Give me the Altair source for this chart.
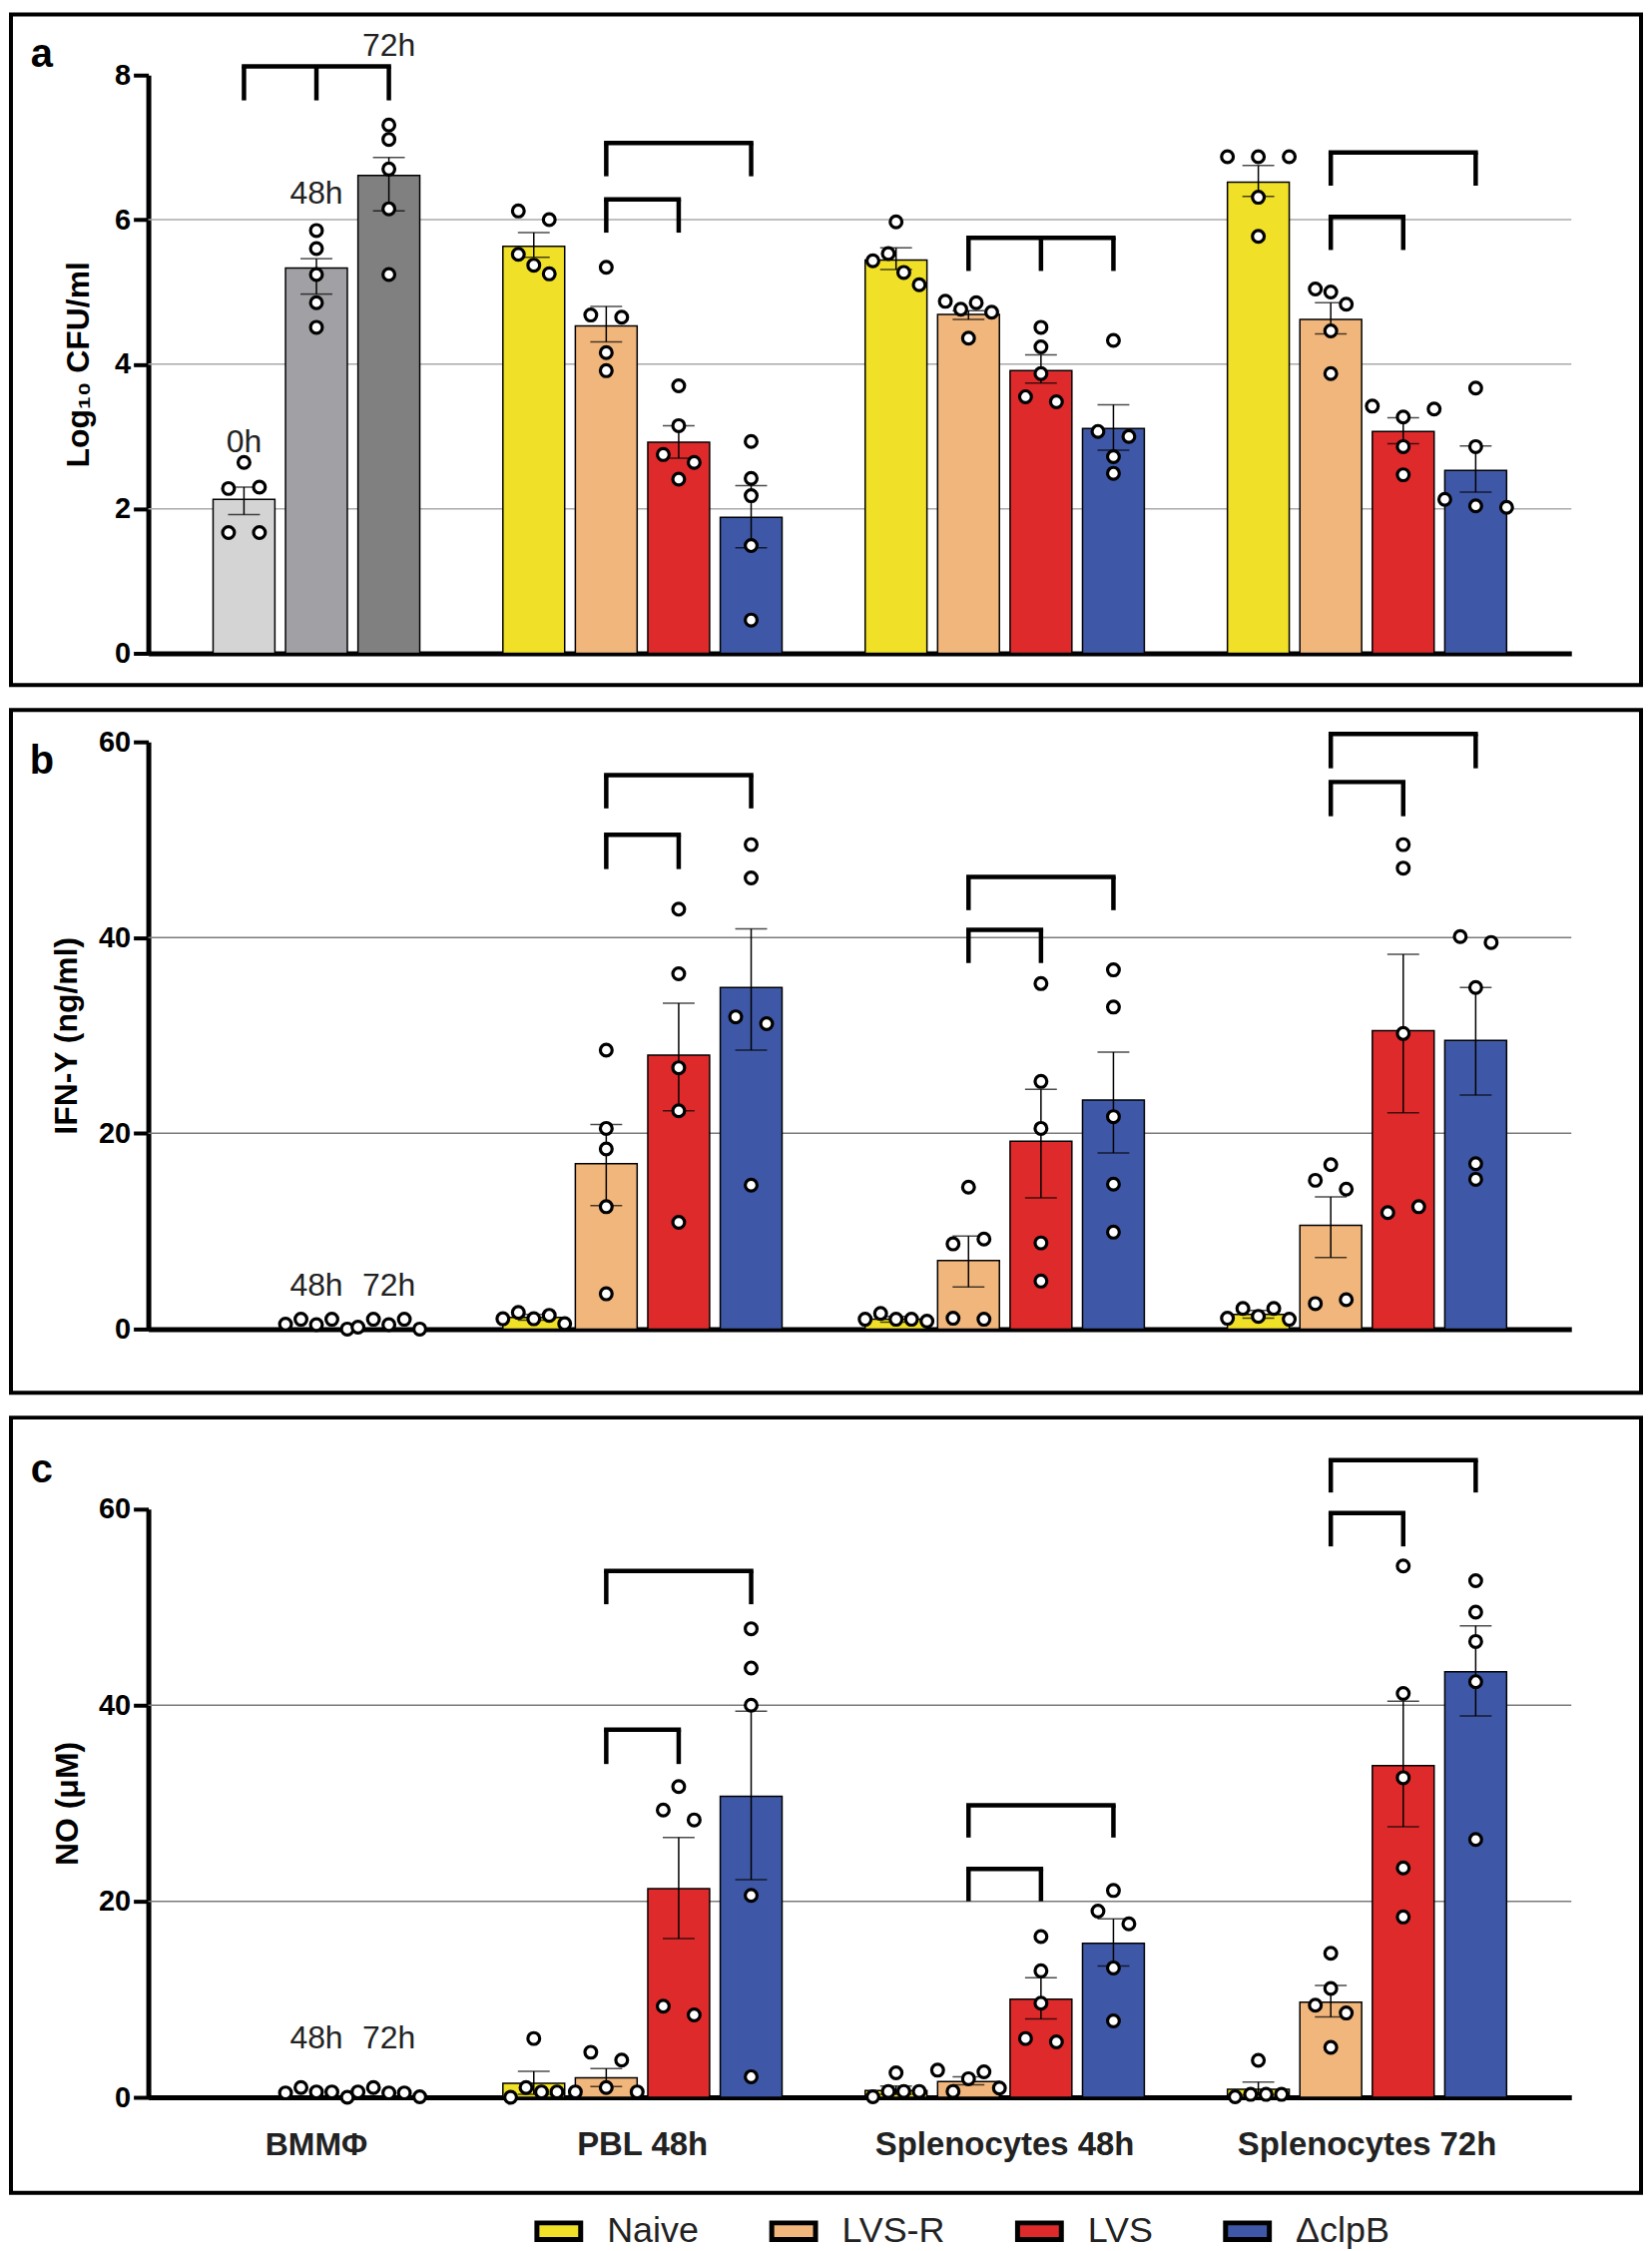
import altair as alt
import pandas as pd

# ---------------- categories ----------------
groups = ["BMMΦ", "PBL 48h", "Splenocytes 48h", "Splenocytes 72h"]
conditions = ["Naive", "LVS-R", "LVS", "ΔclpB"]
bmm_times = ["0h", "48h", "72h"]
cond_colors = ["#F0E028", "#F1B67C", "#DE2A2B", "#3E58A7"]
bmm_colors = ["#D4D4D4", "#A1A1A5", "#808080"]

# ---------------- panel a : Log10 CFU/ml ----------------
a_bmm_mean = [2.13, 5.33, 6.61]
a_bmm_lo = [1.92, 4.97, 6.12]
a_bmm_hi = [2.30, 5.46, 6.86]
a_bmm_pts = [[2.28, 2.64, 2.30, 1.67, 1.67],
             [5.85, 5.60, 5.24, 4.85, 4.51],
             [7.31, 7.11, 6.70, 6.15, 5.24]]
a_mean = {"PBL 48h": [5.63, 4.53, 2.92, 1.88],
          "Splenocytes 48h": [5.44, 4.69, 3.91, 3.11],
          "Splenocytes 72h": [6.52, 4.62, 3.07, 2.53]}
a_lo = {"PBL 48h": [5.48, 4.31, 2.70, 1.46],
        "Splenocytes 48h": [5.31, 4.62, 3.74, 2.81],
        "Splenocytes 72h": [6.32, 4.42, 2.90, 2.23]}
a_hi = {"PBL 48h": [5.82, 4.80, 3.15, 2.32],
        "Splenocytes 48h": [5.61, 4.74, 4.13, 3.44],
        "Splenocytes 72h": [6.75, 4.85, 3.26, 2.87]}
a_pts = {"PBL 48h": [[6.12, 6.00, 5.52, 5.37, 5.25], [5.34, 4.68, 4.65, 4.16, 3.91],
                     [3.70, 3.15, 2.75, 2.64, 2.41], [2.93, 2.42, 2.18, 1.49, 0.46]],
         "Splenocytes 48h": [[5.97, 5.43, 5.53, 5.27, 5.10], [4.87, 4.76, 4.85, 4.72, 4.36],
                             [4.51, 4.24, 3.87, 3.55, 3.48], [4.33, 3.07, 3.00, 2.72, 2.49]],
         "Splenocytes 72h": [[6.87, 6.87, 6.87, 6.31, 5.77], [5.04, 5.00, 4.83, 4.46, 3.87],
                             [3.42, 3.27, 3.38, 2.86, 2.47], [3.67, 2.86, 2.13, 2.04, 2.02]]}
a_brackets = [("BMMΦ|0h", "BMMΦ|72h", "BMMΦ|48h", 8.12, 7.65),
              ("PBL 48h|LVS-R", "PBL 48h|LVS", "", 6.28, 5.82),
              ("PBL 48h|LVS-R", "PBL 48h|ΔclpB", "", 7.06, 6.60),
              ("Splenocytes 48h|LVS-R", "Splenocytes 48h|ΔclpB", "Splenocytes 48h|LVS", 5.75, 5.29),
              ("Splenocytes 72h|LVS-R", "Splenocytes 72h|LVS", "", 6.04, 5.58),
              ("Splenocytes 72h|LVS-R", "Splenocytes 72h|ΔclpB", "", 6.93, 6.47)]
a_labels = [("BMMΦ|0h", "0h", 2.92), ("BMMΦ|48h", "48h", 6.36), ("BMMΦ|72h", "72h", 8.41)]

# ---------------- panel b : IFN-Y (ng/ml) ----------------
b_bmm_pts = [[0.5, 1.0, 0.45, 1.0, 0.0], [0.2, 1.0, 0.45, 1.0, 0.0]]
b_mean = {"PBL 48h": [1.2, 16.9, 28.0, 34.9],
          "Splenocytes 48h": [1.0, 7.0, 19.2, 23.4],
          "Splenocytes 72h": [1.5, 10.6, 30.5, 29.5]}
b_lo = {"PBL 48h": [0.9, 12.6, 22.3, 28.5],
        "Splenocytes 48h": [0.7, 4.3, 13.4, 18.0],
        "Splenocytes 72h": [1.1, 7.3, 22.1, 23.9]}
b_hi = {"PBL 48h": [1.5, 20.9, 33.3, 40.9],
        "Splenocytes 48h": [1.3, 9.5, 24.5, 28.3],
        "Splenocytes 72h": [1.9, 13.5, 38.3, 34.9]}
b_pts = {"PBL 48h": [[1.05, 1.7, 1.05, 1.4, 0.55], [28.5, 20.5, 18.4, 12.5, 3.6],
                     [42.9, 36.3, 26.7, 22.3, 10.9], [49.5, 46.1, 31.9, 31.2, 14.7]],
         "Splenocytes 48h": [[1.0, 1.6, 1.0, 1.0, 0.8], [14.5, 8.7, 9.2, 1.1, 1.0],
                             [35.3, 25.3, 20.5, 8.8, 4.9], [36.7, 32.9, 21.7, 14.8, 9.9]],
         "Splenocytes 72h": [[1.1, 2.1, 1.3, 2.1, 1.0], [16.8, 15.2, 14.3, 2.6, 3.0],
                             [49.5, 47.1, 30.2, 11.9, 12.5], [40.1, 39.5, 34.9, 16.9, 15.3]]}
b_brackets = [("PBL 48h|LVS-R", "PBL 48h|LVS", "", 50.5, 47.0),
              ("PBL 48h|LVS-R", "PBL 48h|ΔclpB", "", 56.6, 53.2),
              ("Splenocytes 48h|LVS-R", "Splenocytes 48h|LVS", "", 40.8, 37.4),
              ("Splenocytes 48h|LVS-R", "Splenocytes 48h|ΔclpB", "", 46.2, 42.8),
              ("Splenocytes 72h|LVS-R", "Splenocytes 72h|LVS", "", 55.9, 52.4),
              ("Splenocytes 72h|LVS-R", "Splenocytes 72h|ΔclpB", "", 60.8, 57.3)]
b_labels = [("BMMΦ|48h", "48h", 4.4), ("BMMΦ|72h", "72h", 4.4)]

# ---------------- panel c : NO (μM) ----------------
c_bmm_pts = [[0.45, 1.0, 0.55, 0.55, 0.0], [0.55, 1.0, 0.45, 0.45, 0.05]]
c_mean = {"PBL 48h": [1.44, 2.0, 21.3, 30.7],
          "Splenocytes 48h": [0.7, 1.6, 10.0, 15.7],
          "Splenocytes 72h": [0.83, 9.7, 33.85, 43.4]}
c_lo = {"PBL 48h": [0.3, 1.1, 16.2, 22.2],
        "Splenocytes 48h": [0.3, 1.27, 8.0, 13.4],
        "Splenocytes 72h": [0.2, 8.2, 27.6, 38.9]}
c_hi = {"PBL 48h": [2.66, 2.94, 26.5, 39.4],
        "Splenocytes 48h": [1.16, 2.1, 12.2, 18.2],
        "Splenocytes 72h": [1.55, 11.4, 40.4, 48.1]}
c_pts = {"PBL 48h": [[0.0, 1.0, 6.0, 0.55, 0.55], [4.6, 0.55, 3.8, 1.0, 0.55],
                     [31.7, 29.3, 28.3, 9.3, 8.4], [47.8, 43.8, 40.0, 20.6, 2.1]],
         "Splenocytes 48h": [[0.05, 0.6, 2.5, 0.6, 0.6], [2.77, 0.6, 1.9, 2.6, 0.94],
                             [16.4, 12.9, 9.6, 6.0, 5.65], [21.1, 19.0, 17.7, 13.2, 7.8]],
         "Splenocytes 72h": [[0.05, 0.3, 3.77, 0.3, 0.3], [14.7, 11.1, 9.4, 8.6, 5.1],
                             [54.2, 41.2, 32.6, 23.4, 18.4], [52.7, 49.5, 46.5, 42.4, 26.3]]}
c_brackets = [("PBL 48h|LVS-R", "PBL 48h|LVS", "", 37.5, 34.0),
              ("PBL 48h|LVS-R", "PBL 48h|ΔclpB", "", 53.7, 50.3),
              ("Splenocytes 48h|LVS-R", "Splenocytes 48h|LVS", "", 23.3, 20.0),
              ("Splenocytes 48h|LVS-R", "Splenocytes 48h|ΔclpB", "", 29.8, 26.5),
              ("Splenocytes 72h|LVS-R", "Splenocytes 72h|LVS", "", 59.6, 56.2),
              ("Splenocytes 72h|LVS-R", "Splenocytes 72h|ΔclpB", "", 65.0, 61.7)]
c_labels = [("BMMΦ|48h", "48h", 6.0), ("BMMΦ|72h", "72h", 6.0)]

# ---------------- layout helpers ----------------
FONT = "Liberation Sans, Arial, Helvetica, sans-serif"
W = 1430
P_IN, P_OUT = 0.147, 0.894
slots = ([f"BMMΦ|{t}" for t in bmm_times] + [" "]
         + [f"PBL 48h|{c}" for c in conditions] + ["  "]
         + [f"Splenocytes 48h|{c}" for c in conditions] + ["   "]
         + [f"Splenocytes 72h|{c}" for c in conditions])
STEP = W / (len(slots) - P_IN + 2 * P_OUT)
lane_domain = list(range(-4, 5))


def xscale():
    return alt.Scale(domain=slots, paddingInner=P_IN, paddingOuter=P_OUT)


cscale = alt.Scale(domain=bmm_times + conditions, range=bmm_colors + cond_colors)


def lanes(vals, ppu, d=13.0):
    n = len(vals)
    order = sorted(range(n), key=lambda i: -vals[i])
    clusters = []
    for i in order:
        if clusters and (vals[clusters[-1][-1]] - vals[i]) * ppu < d:
            clusters[-1].append(i)
        else:
            clusters.append([i])
    out = [0] * n
    pats = {1: [0], 2: [-2, 2], 3: [-2, 0, 2], 4: [-3, -1, 1, 3], 5: [-4, -2, 0, 2, 4]}
    for cl in clusters:
        span = (vals[cl[0]] - vals[cl[-1]]) * ppu
        pat = pats[len(cl)]
        if len(cl) == 3 and span < d:
            pat = [-4, 0, 4]
        for lane, i in zip(pat, sorted(cl)):
            out[i] = lane
    return out


def build(bmm_mean, bmm_lo, bmm_hi, bmm_pts, bmm_keys, mean, lo, hi, pts, ppu):
    bar_rows, pt_rows = [], []
    if bmm_mean:
        for t, m, l, h in zip(bmm_times, bmm_mean, bmm_lo, bmm_hi):
            bar_rows.append(dict(slot=f"BMMΦ|{t}", cond=t, mean=m, lo=l, hi=h))
    for t, vals in zip(bmm_keys, bmm_pts):
        for v, ln in zip(vals, lanes(vals, ppu)):
            pt_rows.append(dict(slot=f"BMMΦ|{t}", value=v, lane=ln))
    for g in groups[1:]:
        for k, c in enumerate(conditions):
            bar_rows.append(dict(slot=f"{g}|{c}", cond=c, mean=mean[g][k], lo=lo[g][k], hi=hi[g][k]))
            vals = pts[g][k]
            for v, ln in zip(vals, lanes(vals, ppu)):
                pt_rows.append(dict(slot=f"{g}|{c}", value=v, lane=ln))
    return pd.DataFrame(bar_rows), pd.DataFrame(pt_rows)


def panel(letter, ytitle, ymax, yticks, H, bars_df, pts_df, brackets, labels, grid_color,
          frame_top, frame_bottom, letter_y, title_x, group_labels=False):
    ys = alt.Scale(domain=[0, ymax], nice=False, zero=True)
    yaxis = alt.Axis(values=yticks, title=ytitle, titleFontSize=32, titleFontWeight="bold",
                     titleFont=FONT, titleX=title_x, titleBaseline="middle", titleColor="black",
                     labelFontSize=29, labelFontWeight="bold", labelFont=FONT, labelColor="black",
                     tickSize=15, tickWidth=4, tickColor="black", domainWidth=5,
                     domainColor="black", grid=False, labelPadding=3)
    xaxis = alt.Axis(labels=False, ticks=False, title="", domainWidth=5, domainColor="black",
                     grid=False)
    X = alt.X("slot:N", scale=xscale(), axis=xaxis)

    def Y(f):
        return alt.Y(f, scale=ys, axis=yaxis)

    one = pd.DataFrame({"k": [0]})

    frame = alt.Chart(one).mark_rect(fill="transparent", stroke="black", strokeWidth=4).encode(
        x=alt.value(-138), x2=alt.value(1500), y=alt.value(frame_top), y2=alt.value(frame_bottom))
    grid = alt.Chart(pd.DataFrame({"v": [t for t in yticks if 0 < t < ymax]})).mark_rule(
        color=grid_color, strokeWidth=1.5).encode(
        y=Y("v:Q"), x=alt.value(0), x2=alt.value(W))
    bars = alt.Chart(bars_df).mark_bar(stroke="black", strokeWidth=1.5).encode(
        x=X, y=Y("mean:Q"),
        color=alt.Color("cond:N", scale=cscale,
                        legend=alt.Legend(values=conditions, title=None)))
    err = alt.Chart(bars_df).mark_rule(color="black", strokeWidth=1.5).encode(
        x=X, y=Y("lo:Q"), y2="hi:Q")
    cap_lo = alt.Chart(bars_df).mark_tick(color="black", thickness=1.5, size=32).encode(
        x=X, y=Y("lo:Q"))
    cap_hi = alt.Chart(bars_df).mark_tick(color="black", thickness=1.5, size=32).encode(
        x=X, y=Y("hi:Q"))

    bh = pd.DataFrame([dict(s1=a, s2=b, top=t) for a, b, m, t, bt in brackets])
    legs = []
    for a, b, m, t, bt in brackets:
        for s in (a, b, m):
            if s:
                legs.append(dict(slot=s, top=t, bot=bt))
    bv = pd.DataFrame(legs)
    br_h = alt.Chart(bh).mark_rule(color="black", strokeWidth=4.5, strokeCap="square").encode(
        x=alt.X("s1:N", scale=xscale(), axis=xaxis), x2="s2:N", y=Y("top:Q"))
    br_v = alt.Chart(bv).mark_rule(color="black", strokeWidth=4.5).encode(
        x=X, y=Y("top:Q"), y2="bot:Q")

    lab = alt.Chart(pd.DataFrame([dict(slot=s, txt=t, ly=v) for s, t, v in labels])).mark_text(
        fontSize=32, font=FONT, color="#222", baseline="middle").encode(
        x=X, y=Y("ly:Q"), text="txt:N")
    let = alt.Chart(one).mark_text(fontSize=40, fontWeight="bold", font=FONT, color="black",
                                   baseline="middle").encode(
        x=alt.value(-107), y=alt.value(letter_y), text=alt.value(letter))

    layers = [frame, grid, bars, err, cap_lo, cap_hi, br_h, br_v, lab, let]
    if group_labels:
        gl1 = alt.Chart(pd.DataFrame({"slot": ["BMMΦ|48h"], "txt": ["BMMΦ"]})).mark_text(
            fontSize=32, fontWeight="bold", font=FONT, color="#222", baseline="middle").encode(
            x=X, y=alt.value(H + 48), text="txt:N")
        gl2 = alt.Chart(pd.DataFrame({"slot": [f"{g}|LVS-R" for g in groups[1:]],
                                      "txt": groups[1:]})).mark_text(
            fontSize=33, fontWeight="bold", font=FONT, color="#222", baseline="middle",
            dx=STEP / 2).encode(x=X, y=alt.value(H + 48), text="txt:N")
        layers += [gl1, gl2]
    base = alt.layer(*layers)

    points = alt.Chart(pts_df).mark_circle(
        size=140, fill="white", stroke="black", strokeWidth=3.2, opacity=1).encode(
        x=alt.X("slot:N", scale=xscale(), axis=None),
        xOffset=alt.XOffset("lane:O", scale=alt.Scale(domain=lane_domain, paddingInner=0,
                                                      paddingOuter=0)),
        y=Y("value:Q"))
    return alt.layer(base, points).resolve_scale(x="independent", xOffset="independent").properties(
        width=W, height=H)


Ha, Hb, Hc = 581, 590, 591
a_bars, a_points = build(a_bmm_mean, a_bmm_lo, a_bmm_hi, a_bmm_pts, bmm_times,
                         a_mean, a_lo, a_hi, a_pts, Ha / 8)
b_bars, b_points = build([], [], [], b_bmm_pts, ["48h", "72h"], b_mean, b_lo, b_hi, b_pts, Hb / 60)
c_bars, c_points = build([], [], [], c_bmm_pts, ["48h", "72h"], c_mean, c_lo, c_hi, c_pts, Hc / 60)

pa = panel("a", "Log₁₀ CFU/ml", 8, [0, 2, 4, 6, 8], Ha, a_bars, a_points, a_brackets, a_labels,
           "#AAAAAA", -61, 613, -20, -70)
pb = panel("b", "IFN-Y (ng/ml)", 60, [0, 20, 40, 60], Hb, b_bars, b_points, b_brackets, b_labels,
           "#7A7A7A", -32, 654, 20, -82)
pc = panel("c", "NO (μM)", 60, [0, 20, 40, 60], Hc, c_bars, c_points, c_brackets, c_labels,
           "#7A7A7A", -92, 687, -39, -81, group_labels=True)

chart = alt.vconcat(pa, pb, pc, spacing=19).properties(padding=0).configure(
    font=FONT).configure_view(stroke="transparent").configure_legend(
    orient="none", legendX=388, legendY=2142, direction="horizontal", columns=4,
    symbolType="M-1,-0.38H1V0.38H-1Z", symbolSize=1936, symbolStrokeWidth=5,
    symbolStrokeColor="black", symbolOpacity=1, labelFontSize=36, labelFont=FONT,
    labelColor="#222", labelOffset=24, columnPadding=62)

chart.save("out.html", embed_options={"renderer": "svg", "actions": False})
